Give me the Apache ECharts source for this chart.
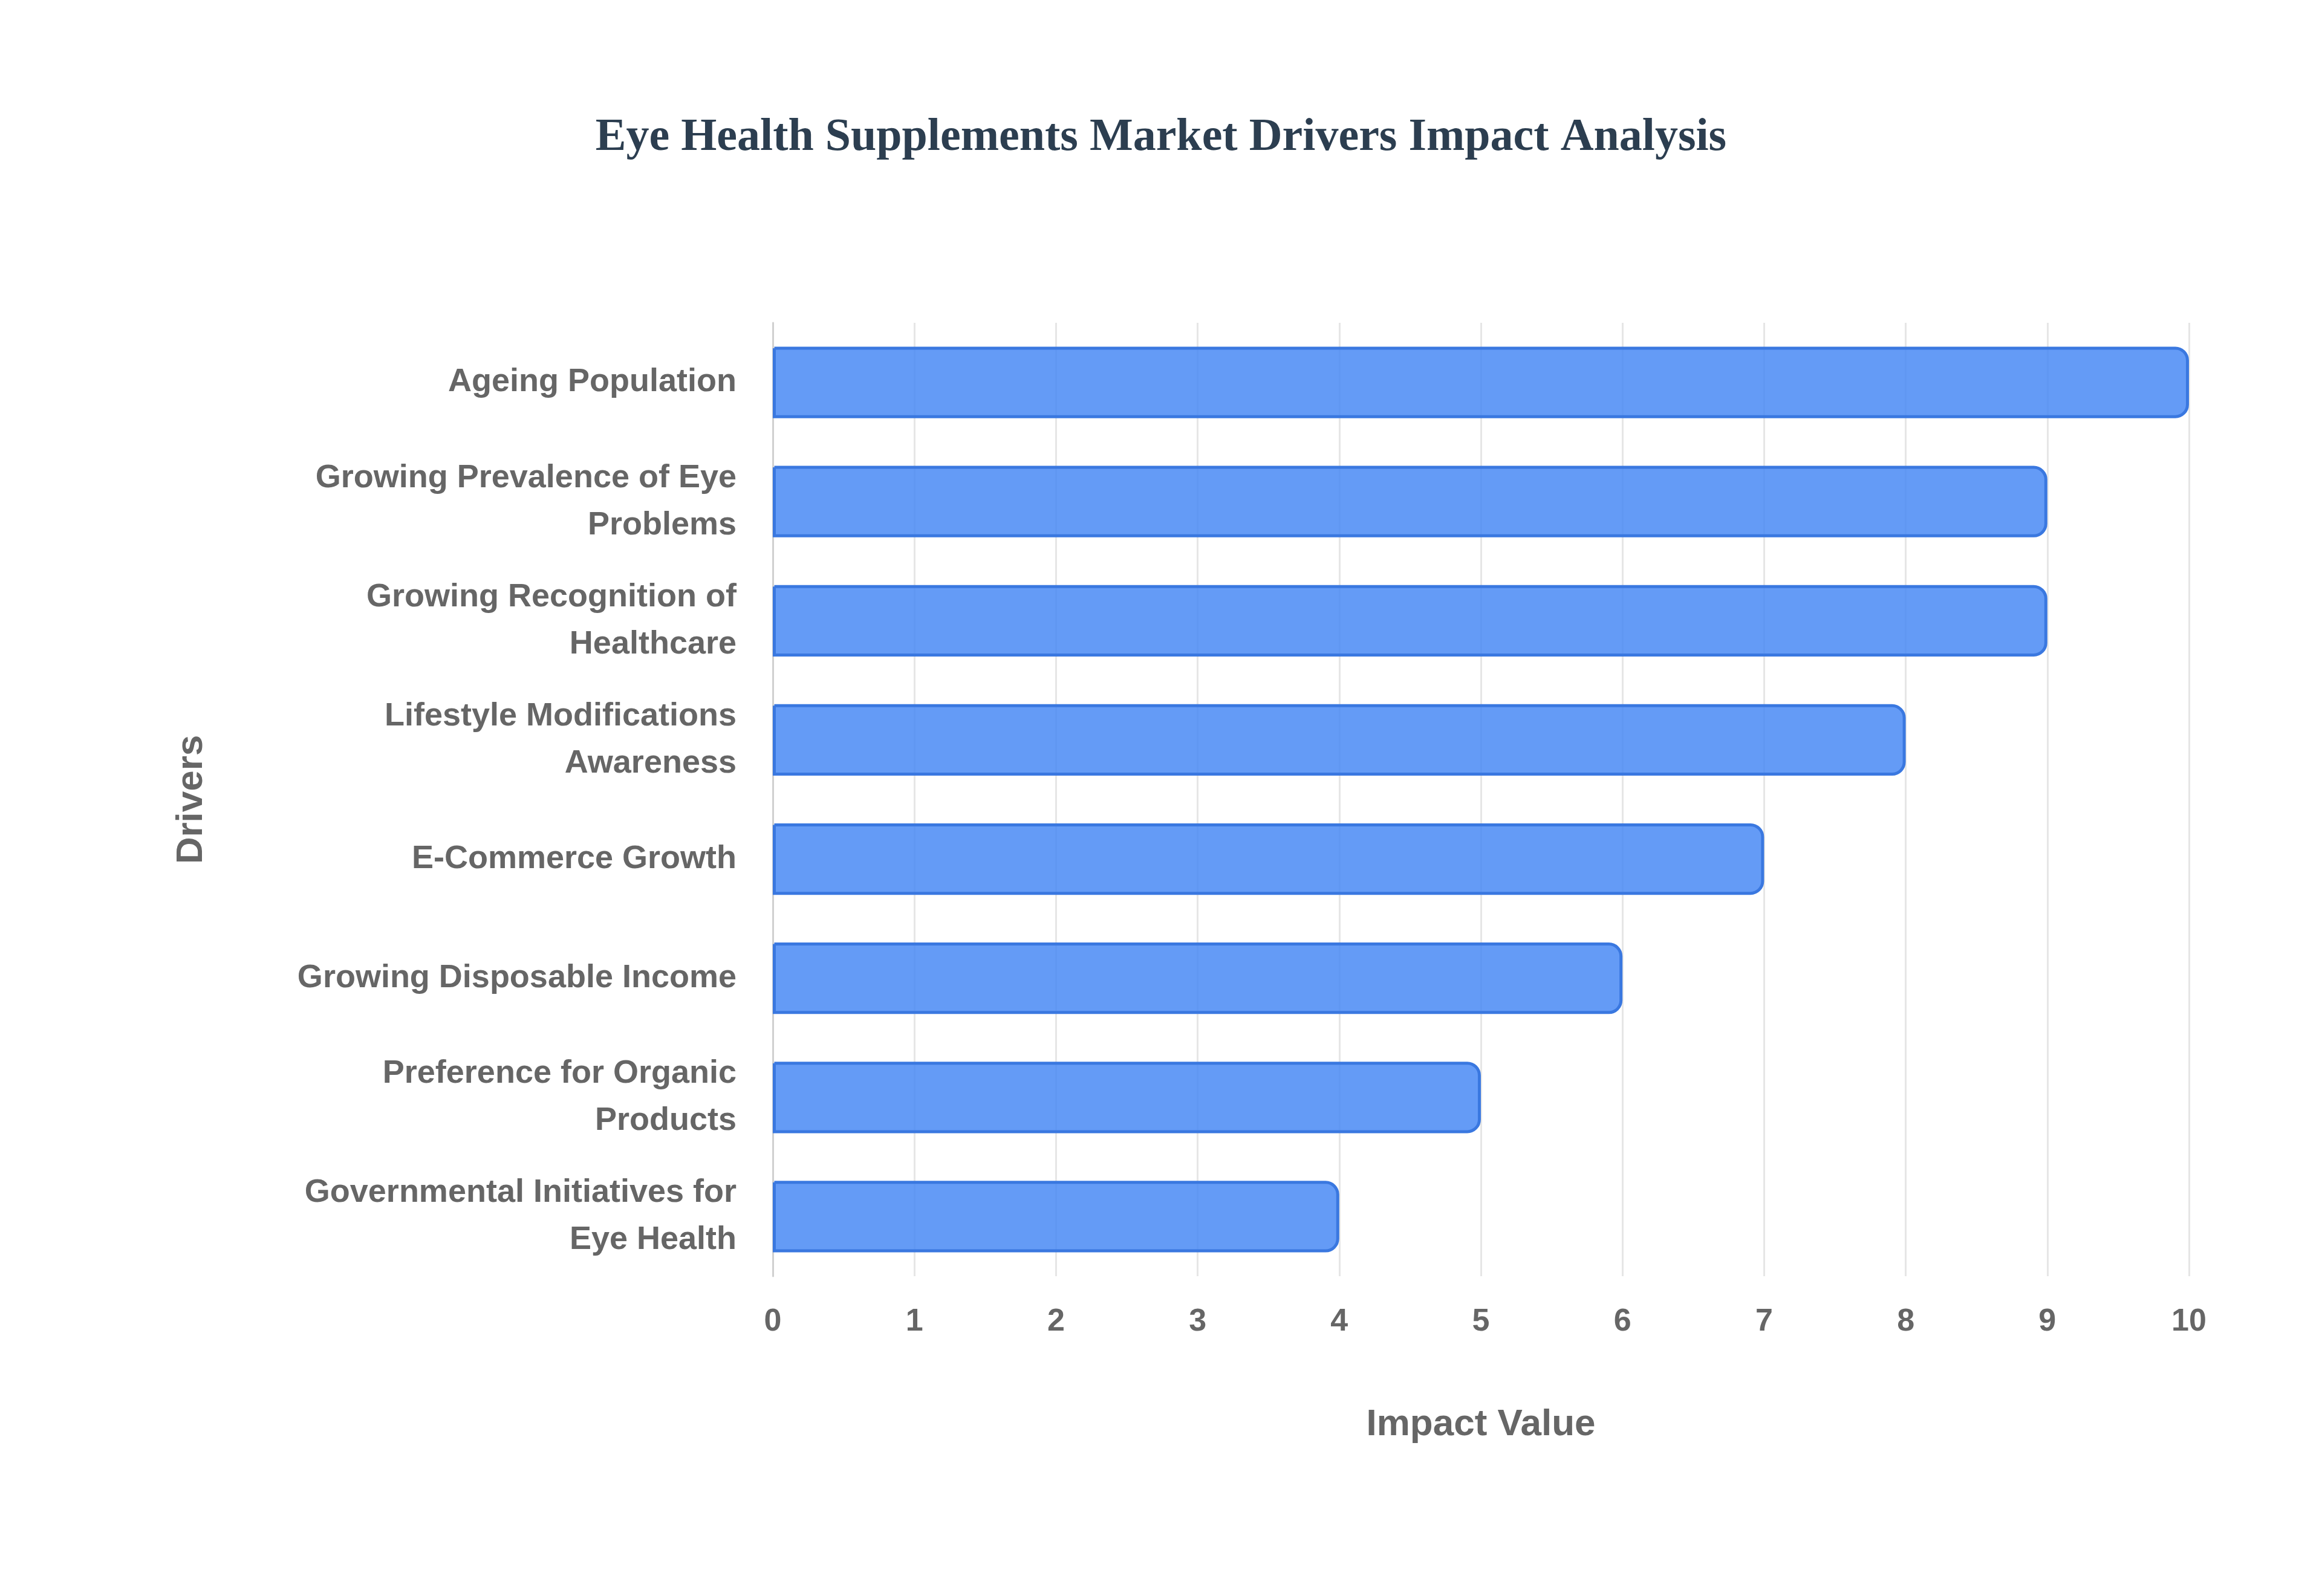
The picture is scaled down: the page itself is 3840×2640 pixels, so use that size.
<!DOCTYPE html>
<html><head><meta charset="utf-8">
<script src="https://cdn.jsdelivr.net/npm/echarts@6/dist/echarts.min.js"></script>
<style>html,body{margin:0;padding:0;background:#fff}#c{width:3840px;height:2640px}</style>
</head><body><div id="c"></div>
<script>
const categories = ["Ageing Population","Growing Prevalence of Eye\nProblems","Growing Recognition of\nHealthcare","Lifestyle Modifications\nAwareness","E-Commerce Growth","Growing Disposable Income","Preference for Organic\nProducts","Governmental Initiatives for\nEye Health"];
const impactValues = [10,9,9,8,7,6,5,4];
const xTicks = [0,10,1];
const chart = echarts.init(document.getElementById('c'));
chart.setOption({
  backgroundColor:'#fff',
  title:{text:'Eye Health Supplements Market Drivers Impact Analysis',left:'center',top:185,
    textStyle:{fontFamily:'Liberation Serif',fontWeight:'bold',fontSize:76,color:'#2c3e50'}},
  grid:{left:1278,right:220,top:534,bottom:529},
  xAxis:{type:'value',min:xTicks[0],max:xTicks[1],interval:xTicks[2],
    name:'Impact Value',nameLocation:'middle',nameGap:215,
    nameTextStyle:{fontFamily:'Liberation Sans',fontWeight:'bold',fontSize:62,color:'#666'},
    axisLine:{show:false},axisTick:{show:false},
    axisLabel:{fontFamily:'Liberation Sans',fontWeight:'bold',fontSize:52,color:'#666',margin:50},
    splitLine:{show:true,lineStyle:{color:'#e6e6e6',width:3}}},
  yAxis:{type:'category',data:categories,inverse:true,
    name:'Drivers',nameLocation:'middle',nameGap:930,nameRotate:90,
    nameTextStyle:{fontFamily:'Liberation Sans',fontWeight:'bold',fontSize:62,color:'#666'},
    axisLine:{show:true,lineStyle:{color:'#d0d0d0',width:3}},axisTick:{show:false},
    axisLabel:{fontFamily:'Liberation Sans',fontWeight:'bold',fontSize:54,color:'#666',margin:60,lineHeight:78,align:'right'}},
  series:[{type:'bar',data:impactValues,barWidth:'60%',
    itemStyle:{color:'rgba(66,133,244,0.82)',borderColor:'#3a78e0',borderWidth:5,borderRadius:[0,20,20,0]}}]
});
</script></body></html>
